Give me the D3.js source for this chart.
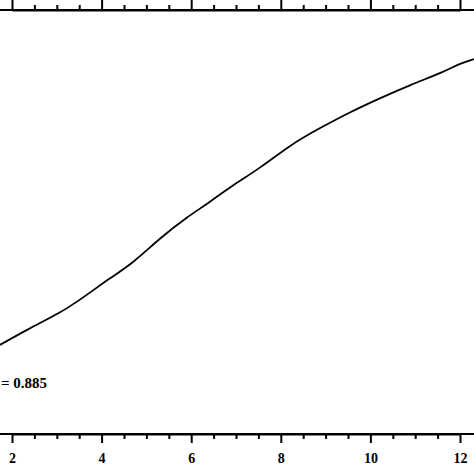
<!DOCTYPE html>
<html>
<head>
<meta charset="utf-8">
<script src="https://cdn.jsdelivr.net/npm/d3@7"></script>
<style>
  body { margin: 0; background: #fff; }
  .axis text { font-family: "Liberation Serif", "Times New Roman", serif; font-weight: bold; font-size: 14px; }
</style>
</head>
<body>
<div id="chart"></div>
<script>
let width = 474
let height = 474

// curve (x in axis units, y as share of the frame height)
let xValues = [1.73, 2.40, 3.07, 3.58, 4.19, 4.70, 5.30, 5.91, 6.42, 6.87, 7.54, 8.21, 8.88, 9.54, 10.21, 10.88, 11.64, 12.02, 12.31]
let yValues = [0.210, 0.250, 0.285, 0.321, 0.368, 0.403, 0.462, 0.512, 0.547, 0.583, 0.627, 0.682, 0.722, 0.759, 0.792, 0.823, 0.854, 0.875, 0.884]
let majorTicks = [2, 4, 6, 8, 10, 12]
let minorTicks = [1.5, 2.5, 3, 3.5, 4.5, 5, 5.5, 6.5, 7, 7.5, 8.5, 9, 9.5, 10.5, 11, 11.5, 12.5]
let fitLabel = "R² = 0.885"

let frameTop = 10, frameBottom = 434

let svg = d3.select("#chart")
            .append("svg")
            .attr("width", width)
            .attr("height", height)

// the frame continues past the picture on the left and right
let xScale = d3.scaleLinear()
    .domain([2, 12])
    .range([12, 460])

let yScale = d3.scaleLinear()
    .domain([0, 1])
    .range([frameBottom, frameTop])

let data = xValues.map((x, i) => [x, yValues[i]])

function styleAxis(g) {
    g.select(".domain").attr("stroke-width", 2.2)
    g.selectAll(".tick line").attr("stroke-width", 2)
}

// bottom axis, major + minor ticks
svg.append("g")
    .attr("class", "axis")
    .attr("transform", "translate(0," + frameBottom + ")")
    .call(d3.axisBottom(xScale).tickValues(minorTicks).tickSize(5).tickSizeOuter(0).tickFormat(""))
    .call(styleAxis)

svg.append("g")
    .attr("class", "axis")
    .attr("transform", "translate(0," + frameBottom + ")")
    .call(d3.axisBottom(xScale).tickValues(majorTicks).tickSize(9).tickSizeOuter(0).tickPadding(10))
    .call(styleAxis)
    .call(g => g.select(".domain").attr("d", "M-100,0H600"))
    .call(g => g.selectAll(".tick text").attr("fill", "#000"))

// top axis, ticks only
svg.append("g")
    .attr("class", "axis")
    .attr("transform", "translate(0," + frameTop + ")")
    .call(d3.axisTop(xScale).tickValues(minorTicks).tickSize(5).tickSizeOuter(0).tickFormat(""))
    .call(styleAxis)

svg.append("g")
    .attr("class", "axis")
    .attr("transform", "translate(0," + frameTop + ")")
    .call(d3.axisTop(xScale).tickValues(majorTicks).tickSize(10).tickSizeOuter(0).tickFormat(""))
    .call(styleAxis)
    .call(g => g.select(".domain").attr("d", "M-100,0H600"))

let line = d3.line()
    .x(d => xScale(d[0]))
    .y(d => yScale(d[1]))
    .curve(d3.curveBasis)

svg.append("path")
    .datum(data)
    .attr("fill", "none")
    .attr("stroke", "#000")
    .attr("stroke-width", 1.8)
    .attr("d", line)

svg.append("text")
    .attr("x", xScale(2.78))
    .attr("y", 388)
    .attr("text-anchor", "end")
    .attr("font-family", "'Liberation Serif', 'Times New Roman', serif")
    .attr("font-weight", "bold")
    .attr("font-size", 15)
    .text(fitLabel)
</script>
</body>
</html>
